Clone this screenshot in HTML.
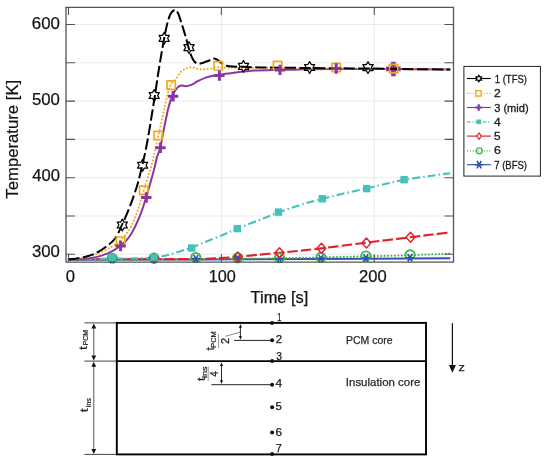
<!DOCTYPE html>
<html><head><meta charset="utf-8"><title>Temperature plot</title>
<style>html,body{margin:0;padding:0;background:#fff;}svg{display:block;}</style>
</head><body>
<svg width="550" height="464" viewBox="0 0 550 464" font-family="'Liberation Sans', Arial, sans-serif">
<rect width="550" height="464" fill="#fff"/>
<line x1="66.0" y1="254.30" x2="453.5" y2="254.30" stroke="#e6e6e6" stroke-width="0.8"/>
<line x1="66.0" y1="216.00" x2="453.5" y2="216.00" stroke="#e6e6e6" stroke-width="0.8"/>
<line x1="66.0" y1="177.70" x2="453.5" y2="177.70" stroke="#e6e6e6" stroke-width="0.8"/>
<line x1="66.0" y1="139.40" x2="453.5" y2="139.40" stroke="#e6e6e6" stroke-width="0.8"/>
<line x1="66.0" y1="101.10" x2="453.5" y2="101.10" stroke="#e6e6e6" stroke-width="0.8"/>
<line x1="66.0" y1="62.80" x2="453.5" y2="62.80" stroke="#e6e6e6" stroke-width="0.8"/>
<line x1="66.0" y1="24.50" x2="453.5" y2="24.50" stroke="#e6e6e6" stroke-width="0.8"/>
<line x1="221.40" y1="7.3" x2="221.40" y2="262.1" stroke="#e6e6e6" stroke-width="0.8"/>
<line x1="374.30" y1="7.3" x2="374.30" y2="262.1" stroke="#e6e6e6" stroke-width="0.8"/>
<g stroke-linejoin="round">
<path d="M68.40,259.80 C90.33,259.73 161.40,259.53 200.00,259.40 C238.60,259.27 258.28,259.18 300.00,259.00 C341.72,258.82 425.25,258.42 450.30,258.30" fill="none" stroke="#3050B2" stroke-width="2"/>
<path d="M68.40,259.80 C82.00,259.77 128.07,259.72 150.00,259.60 C171.93,259.48 185.38,259.25 200.00,259.10 C214.62,258.95 224.45,258.85 237.70,258.70 C250.95,258.55 265.63,258.42 279.50,258.20 C293.37,257.98 306.48,257.72 320.90,257.40 C335.32,257.08 351.08,256.67 366.00,256.30 C380.92,255.93 396.35,255.67 410.40,255.20 C424.45,254.73 443.65,253.78 450.30,253.50" fill="none" stroke="#43B649" stroke-width="2" stroke-dasharray="0.1 3.3" stroke-linecap="round"/>
<path d="M68.40,259.30 C77.00,259.28 104.73,259.23 120.00,259.20 C135.27,259.17 146.67,259.13 160.00,259.10 C173.33,259.07 189.17,259.22 200.00,259.00 C210.83,258.78 218.72,258.15 225.00,257.80 C231.28,257.45 232.20,257.40 237.70,256.90 C243.20,256.40 251.03,255.48 258.00,254.80 C264.97,254.12 272.50,253.48 279.50,252.80 C286.50,252.12 293.02,251.43 300.00,250.70 C306.98,249.97 314.07,249.27 321.40,248.40 C328.73,247.53 336.50,246.47 344.00,245.50 C351.50,244.53 359.07,243.52 366.40,242.60 C373.73,241.68 380.67,240.88 388.00,240.00 C395.33,239.12 403.40,238.17 410.40,237.30 C417.40,236.43 423.35,235.62 430.00,234.80 C436.65,233.98 446.92,232.80 450.30,232.40" fill="none" stroke="#E3202A" stroke-width="2.1" stroke-dasharray="10.5 3.2"/>
<path d="M68.40,259.50 C72.00,259.45 82.70,259.37 90.00,259.20 C97.30,259.03 105.53,258.63 112.20,258.50 C118.87,258.37 123.12,258.55 130.00,258.40 C136.88,258.25 147.13,258.17 153.50,257.60 C159.87,257.03 163.33,256.18 168.20,255.00 C173.07,253.82 178.80,251.73 182.70,250.50 C186.60,249.27 187.97,248.97 191.60,247.60 C195.23,246.23 199.32,244.40 204.50,242.30 C209.68,240.20 217.23,237.28 222.70,235.00 C228.17,232.72 231.42,231.02 237.30,228.60 C243.18,226.18 251.12,223.20 258.00,220.50 C264.88,217.80 271.60,214.98 278.60,212.40 C285.60,209.82 292.72,207.27 300.00,205.00 C307.28,202.73 314.80,200.77 322.30,198.80 C329.80,196.83 337.60,194.93 345.00,193.20 C352.40,191.47 360.03,189.93 366.70,188.40 C373.37,186.87 378.77,185.43 385.00,184.00 C391.23,182.57 396.93,181.10 404.10,179.80 C411.27,178.50 420.30,177.30 428.00,176.20 C435.70,175.10 446.58,173.70 450.30,173.20" fill="none" stroke="#45C1BC" stroke-width="2.1" stroke-dasharray="8 3 1.5 3"/>
<path d="M68.40,259.40 C72.10,259.20 84.03,259.20 90.60,258.20 C97.17,257.20 102.82,255.47 107.80,253.40 C112.78,251.33 116.82,248.70 120.50,245.80 C124.18,242.90 126.70,240.92 129.90,236.00 C133.10,231.08 136.97,222.85 139.70,216.30 C142.43,209.75 143.92,204.47 146.30,196.70 C148.68,188.93 152.23,176.25 154.00,169.70 C155.77,163.15 155.85,161.05 156.90,157.40 C157.95,153.75 159.17,152.37 160.30,147.80 C161.43,143.23 162.37,136.58 163.70,130.00 C165.03,123.42 166.85,114.05 168.30,108.30 C169.75,102.55 170.98,98.82 172.40,95.50 C173.82,92.18 175.37,90.07 176.80,88.40 C178.23,86.73 179.47,85.87 181.00,85.50 C182.53,85.13 184.12,86.38 186.00,86.20 C187.88,86.02 190.35,85.23 192.30,84.40 C194.25,83.57 195.35,82.37 197.70,81.20 C200.05,80.03 203.67,78.37 206.40,77.40 C209.13,76.43 211.93,75.83 214.10,75.40 C216.27,74.97 215.77,75.30 219.40,74.80 C223.03,74.30 229.97,73.10 235.90,72.40 C241.83,71.70 247.65,71.02 255.00,70.60 C262.35,70.18 272.50,70.10 280.00,69.90 C287.50,69.70 290.67,69.55 300.00,69.40 C309.33,69.25 320.42,69.05 336.00,69.00 C351.58,68.95 374.45,69.03 393.50,69.10 C412.55,69.17 440.83,69.35 450.30,69.40" fill="none" stroke="#8A34A6" stroke-width="2.0"/>
<path d="M68.40,259.40 C70.45,259.23 75.78,259.37 80.70,258.40 C85.62,257.43 92.57,255.67 97.90,253.60 C103.23,251.53 108.93,248.20 112.70,246.00 C116.47,243.80 117.63,243.30 120.50,240.40 C123.37,237.50 127.10,233.43 129.90,228.60 C132.70,223.77 134.97,217.87 137.30,211.40 C139.63,204.93 141.52,197.58 143.90,189.80 C146.28,182.02 149.72,171.33 151.60,164.70 C153.48,158.07 154.08,154.85 155.20,150.00 C156.32,145.15 157.50,139.18 158.30,135.60 C159.10,132.02 159.10,132.55 160.00,128.50 C160.90,124.45 162.32,117.47 163.70,111.30 C165.08,105.13 167.08,95.98 168.30,91.50 C169.52,87.02 169.73,86.48 171.00,84.40 C172.27,82.32 174.35,81.00 175.90,79.00 C177.45,77.00 178.67,74.13 180.30,72.40 C181.93,70.67 183.70,69.42 185.70,68.60 C187.70,67.78 189.93,67.38 192.30,67.50 C194.67,67.62 197.18,69.05 199.90,69.30 C202.62,69.55 205.87,69.35 208.60,69.00 C211.33,68.65 213.87,67.43 216.30,67.20 C218.73,66.97 219.93,67.50 223.20,67.60 C226.47,67.70 230.60,67.75 235.90,67.80 C241.20,67.85 248.05,67.93 255.00,67.90 C261.95,67.87 270.10,67.55 277.60,67.60 C285.10,67.65 290.27,68.03 300.00,68.20 C309.73,68.37 320.42,68.47 336.00,68.60 C351.58,68.73 374.45,68.87 393.50,69.00 C412.55,69.13 440.83,69.33 450.30,69.40" fill="none" stroke="#F2A81D" stroke-width="2" stroke-dasharray="0.1 3.4" stroke-linecap="round"/>
<path d="M386.15,68.90 H400.65 M393.40,61.65 V76.15" stroke="#8A34A6" stroke-width="4.6" fill="none"/>
<path d="M68.40,259.20 C69.63,259.12 72.92,259.12 75.80,258.70 C78.68,258.28 82.42,257.60 85.70,256.70 C88.98,255.80 92.23,254.88 95.50,253.30 C98.77,251.72 102.03,249.67 105.30,247.20 C108.57,244.73 112.28,242.30 115.10,238.50 C117.92,234.70 119.73,229.73 122.20,224.40 C124.67,219.07 127.38,213.07 129.90,206.50 C132.42,199.93 135.28,191.67 137.30,185.00 C139.32,178.33 140.57,172.50 142.00,166.50 C143.43,160.50 144.63,155.33 145.90,149.00 C147.17,142.67 148.48,135.00 149.60,128.50 C150.72,122.00 151.70,115.58 152.60,110.00 C153.50,104.42 154.13,100.67 155.00,95.00 C155.87,89.33 156.82,82.35 157.80,76.00 C158.78,69.65 159.87,62.98 160.90,56.90 C161.93,50.82 162.93,45.07 164.00,39.50 C165.07,33.93 166.17,27.82 167.30,23.50 C168.43,19.18 169.50,15.87 170.80,13.60 C172.10,11.33 173.85,9.87 175.10,9.90 C176.35,9.93 177.18,11.42 178.30,13.80 C179.42,16.18 180.63,20.58 181.80,24.20 C182.97,27.82 184.13,31.50 185.30,35.50 C186.47,39.50 187.75,44.68 188.80,48.20 C189.85,51.72 190.67,54.38 191.60,56.60 C192.53,58.82 193.35,60.33 194.40,61.50 C195.45,62.67 196.72,63.30 197.90,63.60 C199.08,63.90 199.52,63.85 201.50,63.30 C203.48,62.75 207.70,61.08 209.80,60.30 C211.90,59.52 212.67,58.57 214.10,58.60 C215.53,58.63 216.88,59.53 218.40,60.50 C219.92,61.47 221.35,63.43 223.20,64.40 C225.05,65.37 226.12,65.90 229.50,66.30 C232.88,66.70 238.42,66.62 243.50,66.80 C248.58,66.98 252.25,67.23 260.00,67.40 C267.75,67.57 281.73,67.70 290.00,67.80 C298.27,67.90 301.27,67.92 309.60,68.00 C317.93,68.08 330.27,68.22 340.00,68.30 C349.73,68.38 358.00,68.38 368.00,68.50 C378.00,68.62 386.28,68.83 400.00,69.00 C413.72,69.17 441.92,69.42 450.30,69.50" fill="none" stroke="#000000" stroke-width="2.0" stroke-dasharray="11.3 3.4"/>
<circle cx="112.30" cy="258.20" r="4.60" fill="none" stroke="#43B649" stroke-width="1.9"/>
<circle cx="154.00" cy="258.20" r="4.60" fill="none" stroke="#43B649" stroke-width="1.9"/>
<circle cx="195.80" cy="257.50" r="4.60" fill="none" stroke="#43B649" stroke-width="1.9"/>
<circle cx="237.70" cy="257.90" r="4.60" fill="none" stroke="#43B649" stroke-width="1.9"/>
<circle cx="279.50" cy="257.80" r="4.60" fill="none" stroke="#43B649" stroke-width="1.9"/>
<circle cx="320.90" cy="257.40" r="4.60" fill="none" stroke="#43B649" stroke-width="1.9"/>
<circle cx="365.90" cy="256.00" r="4.60" fill="none" stroke="#43B649" stroke-width="1.9"/>
<circle cx="410.00" cy="254.80" r="4.60" fill="none" stroke="#43B649" stroke-width="1.9"/>
<path d="M107.90,259.30 L116.70,259.30 M110.10,255.49 L114.50,263.11 M114.50,255.49 L110.10,263.11 " stroke="#3050B2" stroke-width="1.6" fill="none"/>
<path d="M149.60,259.30 L158.40,259.30 M151.80,255.49 L156.20,263.11 M156.20,255.49 L151.80,263.11 " stroke="#3050B2" stroke-width="1.6" fill="none"/>
<path d="M191.40,258.60 L200.20,258.60 M193.60,254.79 L198.00,262.41 M198.00,254.79 L193.60,262.41 " stroke="#3050B2" stroke-width="1.6" fill="none"/>
<path d="M233.30,258.60 L242.10,258.60 M235.50,254.79 L239.90,262.41 M239.90,254.79 L235.50,262.41 " stroke="#3050B2" stroke-width="1.6" fill="none"/>
<path d="M275.10,258.60 L283.90,258.60 M277.30,254.79 L281.70,262.41 M281.70,254.79 L277.30,262.41 " stroke="#3050B2" stroke-width="1.6" fill="none"/>
<path d="M316.50,258.40 L325.30,258.40 M318.70,254.59 L323.10,262.21 M323.10,254.59 L318.70,262.21 " stroke="#3050B2" stroke-width="1.6" fill="none"/>
<path d="M361.50,258.00 L370.30,258.00 M363.70,254.19 L368.10,261.81 M368.10,254.19 L363.70,261.81 " stroke="#3050B2" stroke-width="1.6" fill="none"/>
<path d="M405.60,257.80 L414.40,257.80 M407.80,253.99 L412.20,261.61 M412.20,253.99 L407.80,261.61 " stroke="#3050B2" stroke-width="1.6" fill="none"/>
<path d="M154.10,253.00 L158.60,258.00 L154.10,263.00 L149.60,258.00 Z" fill="none" stroke="#E3202A" stroke-width="1.4"/>
<path d="M237.80,251.90 L242.30,256.90 L237.80,261.90 L233.30,256.90 Z" fill="none" stroke="#E3202A" stroke-width="1.4"/>
<path d="M279.50,247.80 L284.00,252.80 L279.50,257.80 L275.00,252.80 Z" fill="none" stroke="#E3202A" stroke-width="1.4"/>
<path d="M321.40,243.30 L325.90,248.30 L321.40,253.30 L316.90,248.30 Z" fill="none" stroke="#E3202A" stroke-width="1.4"/>
<path d="M366.40,238.00 L370.90,243.00 L366.40,248.00 L361.90,243.00 Z" fill="none" stroke="#E3202A" stroke-width="1.4"/>
<path d="M410.50,232.30 L415.00,237.30 L410.50,242.30 L406.00,237.30 Z" fill="none" stroke="#E3202A" stroke-width="1.4"/>
<rect x="108.60" y="253.90" width="7.40" height="7.40" fill="#45C1BC" stroke="#45C1BC" stroke-width="0"/>
<rect x="150.30" y="253.50" width="7.40" height="7.40" fill="#45C1BC" stroke="#45C1BC" stroke-width="0"/>
<rect x="188.00" y="244.30" width="7.40" height="7.40" fill="#45C1BC" stroke="#45C1BC" stroke-width="0"/>
<rect x="233.60" y="224.90" width="7.40" height="7.40" fill="#45C1BC" stroke="#45C1BC" stroke-width="0"/>
<rect x="274.70" y="208.40" width="7.40" height="7.40" fill="#45C1BC" stroke="#45C1BC" stroke-width="0"/>
<rect x="318.60" y="195.10" width="7.40" height="7.40" fill="#45C1BC" stroke="#45C1BC" stroke-width="0"/>
<rect x="363.00" y="184.90" width="7.40" height="7.40" fill="#45C1BC" stroke="#45C1BC" stroke-width="0"/>
<rect x="400.40" y="176.00" width="7.40" height="7.40" fill="#45C1BC" stroke="#45C1BC" stroke-width="0"/>
<rect x="116.40" y="237.00" width="8.40" height="8.40" fill="none" stroke="#F2A81D" stroke-width="1.7"/>
<rect x="139.50" y="186.20" width="8.40" height="8.40" fill="none" stroke="#F2A81D" stroke-width="1.7"/>
<rect x="154.00" y="131.30" width="8.40" height="8.40" fill="none" stroke="#F2A81D" stroke-width="1.7"/>
<rect x="166.90" y="80.90" width="8.40" height="8.40" fill="none" stroke="#F2A81D" stroke-width="1.7"/>
<rect x="214.00" y="61.60" width="8.40" height="8.40" fill="none" stroke="#F2A81D" stroke-width="1.7"/>
<rect x="273.40" y="61.30" width="8.40" height="8.40" fill="none" stroke="#F2A81D" stroke-width="1.7"/>
<rect x="332.00" y="63.30" width="8.40" height="8.40" fill="none" stroke="#F2A81D" stroke-width="1.7"/>
<rect x="389.40" y="64.40" width="8.40" height="8.40" fill="none" stroke="#F2A81D" stroke-width="1.7"/>
<path d="M115.40,246.00 H125.80 M120.60,240.80 V251.20" stroke="#8A34A6" stroke-width="3" fill="none"/>
<path d="M141.10,197.50 H151.50 M146.30,192.30 V202.70" stroke="#8A34A6" stroke-width="3" fill="none"/>
<path d="M155.20,147.80 H165.60 M160.40,142.60 V153.00" stroke="#8A34A6" stroke-width="3" fill="none"/>
<path d="M167.90,96.20 H178.30 M173.10,91.00 V101.40" stroke="#8A34A6" stroke-width="3" fill="none"/>
<path d="M214.20,75.60 H224.60 M219.40,70.40 V80.80" stroke="#8A34A6" stroke-width="3" fill="none"/>
<path d="M274.80,69.90 H285.20 M280.00,64.70 V75.10" stroke="#8A34A6" stroke-width="3" fill="none"/>
<path d="M331.00,68.50 H341.40 M336.20,63.30 V73.70" stroke="#8A34A6" stroke-width="3" fill="none"/>
<path d="M122.30,219.10 L120.60,222.05 L117.19,222.05 L118.89,225.00 L117.19,227.95 L120.60,227.95 L122.30,230.90 L124.00,227.95 L127.41,227.95 L125.71,225.00 L127.41,222.05 L124.00,222.05Z" fill="none" stroke="#000000" stroke-width="1.25"/>
<path d="M142.60,159.30 L140.90,162.25 L137.49,162.25 L139.19,165.20 L137.49,168.15 L140.90,168.15 L142.60,171.10 L144.30,168.15 L147.71,168.15 L146.01,165.20 L147.71,162.25 L144.30,162.25Z" fill="none" stroke="#000000" stroke-width="1.25"/>
<path d="M154.20,89.60 L152.50,92.55 L149.09,92.55 L150.79,95.50 L149.09,98.45 L152.50,98.45 L154.20,101.40 L155.90,98.45 L159.31,98.45 L157.61,95.50 L159.31,92.55 L155.90,92.55Z" fill="none" stroke="#000000" stroke-width="1.25"/>
<path d="M164.20,32.40 L162.50,35.35 L159.09,35.35 L160.79,38.30 L159.09,41.25 L162.50,41.25 L164.20,44.20 L165.90,41.25 L169.31,41.25 L167.61,38.30 L169.31,35.35 L165.90,35.35Z" fill="none" stroke="#000000" stroke-width="1.25"/>
<path d="M189.00,41.70 L187.30,44.65 L183.89,44.65 L185.59,47.60 L183.89,50.55 L187.30,50.55 L189.00,53.50 L190.70,50.55 L194.11,50.55 L192.41,47.60 L194.11,44.65 L190.70,44.65Z" fill="none" stroke="#000000" stroke-width="1.25"/>
<path d="M243.50,60.50 L241.80,63.45 L238.39,63.45 L240.09,66.40 L238.39,69.35 L241.80,69.35 L243.50,72.30 L245.20,69.35 L248.61,69.35 L246.91,66.40 L248.61,63.45 L245.20,63.45Z" fill="none" stroke="#000000" stroke-width="1.25"/>
<path d="M309.60,61.60 L307.90,64.55 L304.49,64.55 L306.19,67.50 L304.49,70.45 L307.90,70.45 L309.60,73.40 L311.30,70.45 L314.71,70.45 L313.01,67.50 L314.71,64.55 L311.30,64.55Z" fill="none" stroke="#000000" stroke-width="1.25"/>
<path d="M368.00,61.70 L366.30,64.65 L362.89,64.65 L364.59,67.60 L362.89,70.55 L366.30,70.55 L368.00,73.50 L369.70,70.55 L373.11,70.55 L371.41,67.60 L373.11,64.65 L369.70,64.65Z" fill="none" stroke="#000000" stroke-width="1.25"/>
</g>
<path d="M66.0,7.3 H453.5 V262.1 H66.0 Z" fill="none" stroke="#555" stroke-width="1.3"/>
<path d="M66.0,254.30 h9 M453.5,254.30 h-9 M66.0,216.00 h9 M453.5,216.00 h-9 M66.0,177.70 h9 M453.5,177.70 h-9 M66.0,139.40 h9 M453.5,139.40 h-9 M66.0,101.10 h9 M453.5,101.10 h-9 M66.0,62.80 h9 M453.5,62.80 h-9 M66.0,24.50 h9 M453.5,24.50 h-9 M68.50,262.1 v-7.8 M68.50,7.3 v7.8 M221.40,262.1 v-7.8 M221.40,7.3 v7.8 M374.30,262.1 v-7.8 M374.30,7.3 v7.8" stroke="#555" stroke-width="1.1" fill="none"/>
<text x="31.74" y="28.90" font-size="16.40" fill="#141414" textLength="28.22" lengthAdjust="spacingAndGlyphs" stroke="#141414" stroke-width="0.25">600</text>
<text x="31.93" y="104.70" font-size="16.40" fill="#141414" textLength="28.03" lengthAdjust="spacingAndGlyphs" stroke="#141414" stroke-width="0.25">500</text>
<text x="32.22" y="180.60" font-size="16.40" fill="#141414" textLength="27.73" lengthAdjust="spacingAndGlyphs" stroke="#141414" stroke-width="0.25">400</text>
<text x="31.96" y="256.70" font-size="16.40" fill="#141414" textLength="27.99" lengthAdjust="spacingAndGlyphs" stroke="#141414" stroke-width="0.25">300</text>
<text x="65.85" y="281.50" font-size="16.40" fill="#141414" textLength="9.31" lengthAdjust="spacingAndGlyphs" stroke="#141414" stroke-width="0.25">0</text>
<text x="208.76" y="281.50" font-size="16.40" fill="#141414" textLength="27.18" lengthAdjust="spacingAndGlyphs" stroke="#141414" stroke-width="0.25">100</text>
<text x="359.07" y="281.50" font-size="16.40" fill="#141414" textLength="27.68" lengthAdjust="spacingAndGlyphs" stroke="#141414" stroke-width="0.25">200</text>
<text x="250.64" y="302.80" font-size="15.60" fill="#141414" textLength="57.72" lengthAdjust="spacingAndGlyphs" stroke="#141414" stroke-width="0.25">Time [s]</text>
<text transform="translate(18.40,0) rotate(-90)" x="-198.67" y="0" font-size="16.20" fill="#141414" textLength="118.84" lengthAdjust="spacingAndGlyphs" stroke="#141414" stroke-width="0.2">Temperature [K]</text>
<rect x="463.9" y="66.4" width="76.5" height="109.7" fill="#fff" stroke="#222" stroke-width="1"/>
<line x1="467.0" y1="78.5" x2="490.8" y2="78.5" stroke="#000" stroke-width="1.15"/>
<path d="M478.80,75.30 L477.88,76.90 L476.03,76.90 L476.95,78.50 L476.03,80.10 L477.88,80.10 L478.80,81.70 L479.72,80.10 L481.57,80.10 L480.65,78.50 L481.57,76.90 L479.72,76.90Z" fill="white" stroke="#000" stroke-width="1.2"/>
<line x1="467.0" y1="93.4" x2="490.8" y2="93.4" stroke="#F2A81D" stroke-width="1.15" stroke-dasharray="1.1 1.7"/>
<rect x="475.80" y="90.70" width="5.40" height="5.40" fill="white" stroke="#F2A81D" stroke-width="1.4"/>
<line x1="467.0" y1="107.5" x2="490.8" y2="107.5" stroke="#8A34A6" stroke-width="1.15"/>
<path d="M475.40,107.50 H482.00 M478.70,104.20 V110.80" stroke="#8A34A6" stroke-width="2.2" fill="none"/>
<line x1="467.0" y1="121.8" x2="490.8" y2="121.8" stroke="#45C1BC" stroke-width="1.15" stroke-dasharray="3.6 1.6 1.1 1.6"/>
<rect x="476.50" y="119.50" width="4.60" height="4.60" fill="#45C1BC" stroke="#45C1BC" stroke-width="0"/>
<line x1="467.0" y1="136.1" x2="490.8" y2="136.1" stroke="#E3202A" stroke-width="1.15"/>
<path d="M479.10,133.00 L481.50,136.10 L479.10,139.20 L476.70,136.10 Z" fill="white" stroke="#E3202A" stroke-width="1.2"/>
<line x1="467.0" y1="150.8" x2="490.8" y2="150.8" stroke="#43B649" stroke-width="1.15" stroke-dasharray="1.1 1.7"/>
<circle cx="479.30" cy="150.80" r="2.90" fill="none" stroke="#43B649" stroke-width="1.4"/>
<line x1="467.0" y1="164.7" x2="490.8" y2="164.7" stroke="#3050B2" stroke-width="1.15"/>
<path d="M474.80,164.70 L483.40,164.70 M476.95,160.98 L481.25,168.42 M481.25,160.98 L476.95,168.42 " stroke="#3050B2" stroke-width="1.6" fill="none"/>
<text x="494.78" y="82.50" font-size="11.00" fill="#1a1a1a" textLength="32.21" lengthAdjust="spacingAndGlyphs" stroke="#1a1a1a" stroke-width="0.3">1 (TFS)</text>
<text x="493.99" y="97.40" font-size="11.00" fill="#1a1a1a" textLength="6.71" lengthAdjust="spacingAndGlyphs" stroke="#1a1a1a" stroke-width="0.3">2</text>
<text x="494.18" y="111.70" font-size="11.00" fill="#1a1a1a" textLength="34.51" lengthAdjust="spacingAndGlyphs" stroke="#1a1a1a" stroke-width="0.3">3 (mid)</text>
<text x="494.02" y="125.70" font-size="11.00" fill="#1a1a1a" textLength="6.73" lengthAdjust="spacingAndGlyphs" stroke="#1a1a1a" stroke-width="0.3">4</text>
<text x="494.13" y="140.10" font-size="11.00" fill="#1a1a1a" textLength="6.57" lengthAdjust="spacingAndGlyphs" stroke="#1a1a1a" stroke-width="0.3">5</text>
<text x="493.97" y="154.10" font-size="11.00" fill="#1a1a1a" textLength="6.87" lengthAdjust="spacingAndGlyphs" stroke="#1a1a1a" stroke-width="0.3">6</text>
<text x="494.31" y="168.70" font-size="11.00" fill="#1a1a1a" textLength="32.67" lengthAdjust="spacingAndGlyphs" stroke="#1a1a1a" stroke-width="0.3">7 (BFS)</text>
<g fill="none" stroke="#000">
<rect x="116.8" y="322.9" width="309.2" height="131.5" stroke-width="1.9"/>
<line x1="116.8" y1="361.1" x2="426" y2="361.1" stroke-width="1.9"/>
</g>
<path d="M84.4,322.9 H116 M84.4,361.1 H116 M84.4,454.4 H116" stroke="#444" stroke-width="1" fill="none"/>
<line x1="93.80" y1="326.50" x2="93.80" y2="357.50" stroke="#555" stroke-width="1.0"/><path d="M93.80,360.50 L91.40,355.50 L96.20,355.50 Z" fill="#111"/><path d="M93.80,323.50 L91.40,328.50 L96.20,328.50 Z" fill="#111"/>
<line x1="93.80" y1="364.70" x2="93.80" y2="450.90" stroke="#555" stroke-width="1.0"/><path d="M93.80,453.90 L91.40,448.90 L96.20,448.90 Z" fill="#111"/><path d="M93.80,361.70 L91.40,366.70 L96.20,366.70 Z" fill="#111"/>
<line x1="240.40" y1="326.28" x2="240.40" y2="337.52" stroke="#111" stroke-width="0.9"/><path d="M240.40,339.80 L238.90,336.00 L241.90,336.00 Z" fill="#111"/><path d="M240.40,324.00 L238.90,327.80 L241.90,327.80 Z" fill="#111"/>
<line x1="221.50" y1="364.58" x2="221.50" y2="381.72" stroke="#111" stroke-width="0.9"/><path d="M221.50,384.00 L220.00,380.20 L223.00,380.20 Z" fill="#111"/><path d="M221.50,362.30 L220.00,366.10 L223.00,366.10 Z" fill="#111"/>
<path d="M234.1,340.4 H272 M211.4,384.7 H272" stroke="#222" stroke-width="1" fill="none"/>
<path d="M225.5,336.3 L240.2,332.1" stroke="#555" stroke-width="0.7" fill="none"/>
<line x1="452.4" y1="323.3" x2="452.4" y2="366" stroke="#111" stroke-width="1.2"/>
<path d="M452.4,372.8 L448.9,365 L455.9,365 Z" fill="#111"/>
<text x="458.49" y="370.50" font-size="10.50" fill="#1a1a1a" textLength="6.35" lengthAdjust="spacingAndGlyphs" stroke="#1a1a1a" stroke-width="0.25">z</text>
<circle cx="272.1" cy="323.1" r="2.0" fill="#111"/>
<text x="277.13" y="320.70" font-size="10.30" fill="#1a1a1a" textLength="4.13" lengthAdjust="spacingAndGlyphs" stroke="#1a1a1a" stroke-width="0.25">1</text>
<circle cx="272.1" cy="340.3" r="2.0" fill="#111"/>
<text x="275.73" y="343.20" font-size="10.30" fill="#1a1a1a" textLength="6.35" lengthAdjust="spacingAndGlyphs" stroke="#1a1a1a" stroke-width="0.25">2</text>
<circle cx="272.1" cy="360.9" r="2.0" fill="#111"/>
<text x="276.21" y="359.60" font-size="10.30" fill="#1a1a1a" textLength="5.75" lengthAdjust="spacingAndGlyphs" stroke="#1a1a1a" stroke-width="0.25">3</text>
<circle cx="272.1" cy="384.8" r="2.0" fill="#111"/>
<text x="275.53" y="387.20" font-size="10.30" fill="#1a1a1a" textLength="6.62" lengthAdjust="spacingAndGlyphs" stroke="#1a1a1a" stroke-width="0.25">4</text>
<circle cx="272.1" cy="407.2" r="2.0" fill="#111"/>
<text x="275.54" y="410.20" font-size="10.30" fill="#1a1a1a" textLength="6.33" lengthAdjust="spacingAndGlyphs" stroke="#1a1a1a" stroke-width="0.25">5</text>
<circle cx="272.1" cy="432.5" r="2.0" fill="#111"/>
<text x="275.41" y="435.60" font-size="10.30" fill="#1a1a1a" textLength="6.51" lengthAdjust="spacingAndGlyphs" stroke="#1a1a1a" stroke-width="0.25">6</text>
<circle cx="272.1" cy="453.9" r="2.0" fill="#111"/>
<text x="275.84" y="452.10" font-size="10.30" fill="#1a1a1a" textLength="6.12" lengthAdjust="spacingAndGlyphs" stroke="#1a1a1a" stroke-width="0.25">7</text>
<text x="345.94" y="344.00" font-size="10.40" fill="#2a2a2a" textLength="46.63" lengthAdjust="spacingAndGlyphs" stroke="#2a2a2a" stroke-width="0.25">PCM core</text>
<text x="345.84" y="385.80" font-size="10.60" fill="#2a2a2a" textLength="74.57" lengthAdjust="spacingAndGlyphs" stroke="#2a2a2a" stroke-width="0.25">Insulation core</text>
<text transform="translate(86.90,0) rotate(-90)" x="-349.92" y="0" font-size="10.80" fill="#222" textLength="4.03" lengthAdjust="spacingAndGlyphs" stroke="#222" stroke-width="0.2">t</text><text transform="translate(88.40,0) rotate(-90)" x="-345.37" y="0" font-size="6.80" fill="#222" textLength="15.33" lengthAdjust="spacingAndGlyphs" stroke="#222" stroke-width="0.2">PCM</text>
<text transform="translate(88.10,0) rotate(-90)" x="-412.21" y="0" font-size="10.80" fill="#222" textLength="3.92" lengthAdjust="spacingAndGlyphs" stroke="#222" stroke-width="0.2">t</text><text transform="translate(90.70,0) rotate(-90)" x="-407.50" y="0" font-size="6.80" fill="#222" textLength="9.46" lengthAdjust="spacingAndGlyphs" stroke="#222" stroke-width="0.2">ins</text>
<text transform="translate(214.40,0) rotate(-90)" x="-350.58" y="0" font-size="11.00" fill="#222" textLength="3.37" lengthAdjust="spacingAndGlyphs" stroke="#222" stroke-width="0.2">t</text><text transform="translate(216.30,0) rotate(-90)" x="-347.71" y="0" font-size="6.60" fill="#222" textLength="16.52" lengthAdjust="spacingAndGlyphs" stroke="#222" stroke-width="0.2">PCM</text>
<line x1="218.6" y1="333.9" x2="218.6" y2="348" stroke="#888" stroke-width="0.9"/>
<text transform="translate(229.00,0) rotate(-90)" x="-344.05" y="0" font-size="10.60" fill="#111" textLength="6.10" lengthAdjust="spacingAndGlyphs" stroke="#111" stroke-width="0.2">2</text>
<text transform="translate(204.60,0) rotate(-90)" x="-380.99" y="0" font-size="11.00" fill="#222" textLength="3.48" lengthAdjust="spacingAndGlyphs" stroke="#222" stroke-width="0.2">t</text><text transform="translate(206.80,0) rotate(-90)" x="-378.11" y="0" font-size="6.60" fill="#222" textLength="11.64" lengthAdjust="spacingAndGlyphs" stroke="#222" stroke-width="0.2">ins</text>
<line x1="208.2" y1="366.6" x2="208.2" y2="380.7" stroke="#888" stroke-width="0.9"/>
<text transform="translate(217.60,0) rotate(-90)" x="-376.83" y="0" font-size="10.60" fill="#111" textLength="5.52" lengthAdjust="spacingAndGlyphs" stroke="#111" stroke-width="0.2">4</text>
</svg>
</body></html>
